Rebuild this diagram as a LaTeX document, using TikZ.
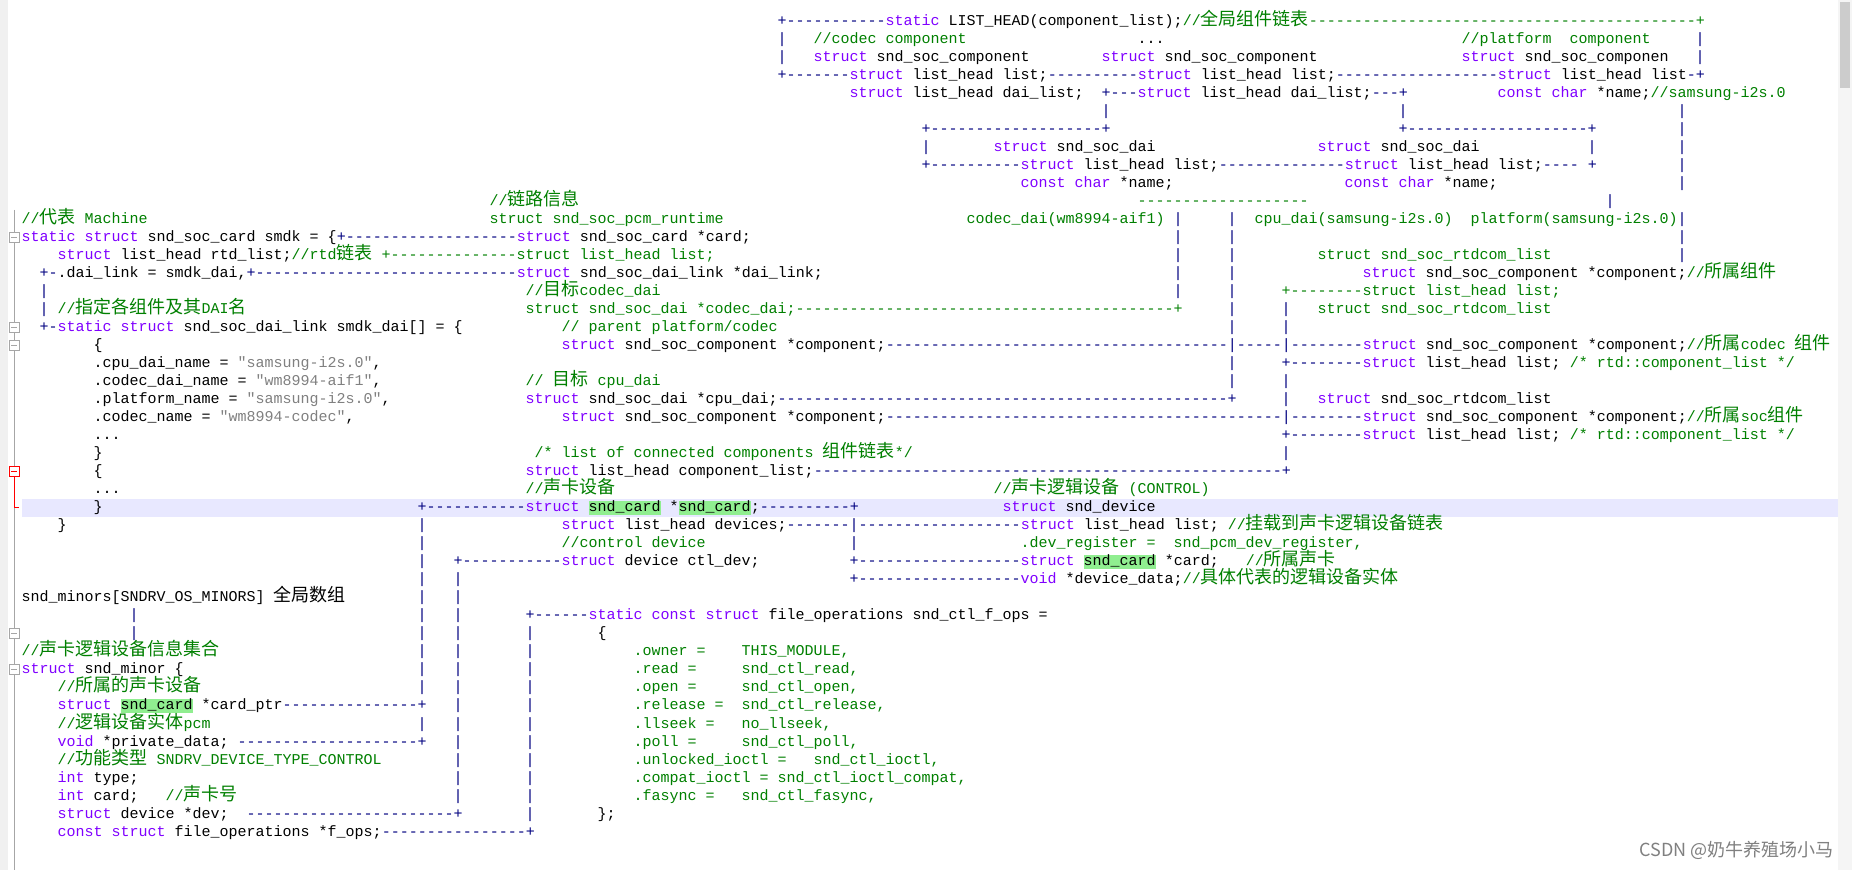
\documentclass[tikz,border=0pt]{standalone}
\usepackage{fontspec}
\newfontfamily\code{Liberation Mono}[WordSpace={1,0,0}]
\newfontfamily\cjkf{Noto Sans CJK SC}[Scale=1.2]
\newfontfamily\wmf{Noto Sans CJK SC}
\definecolor{kwc}{HTML}{8000FF}
\definecolor{cmc}{HTML}{008000}
\definecolor{blc}{HTML}{000080}
\definecolor{stc}{HTML}{808080}
\definecolor{hlg}{HTML}{90EE90}
\definecolor{band}{HTML}{E8E8FF}
\ExplSyntaxOn
\cs_new:Npn \rep #1#2 { \prg_replicate:nn {#1} {#2} }
\ExplSyntaxOff
\newcommand\KW[1]{\textcolor{kwc}{#1}}
\newcommand\CM[1]{\textcolor{cmc}{#1}}
\newcommand\BL[1]{\textcolor{blc}{#1}}
\newcommand\STR[1]{\textcolor{stc}{#1}}
\newcommand\ZH[1]{{\cjkf #1}}
\newcommand\HL[1]{{\setlength{\fboxsep}{0pt}\colorbox{hlg}{\vphantom{Ag}#1}}}
\newcommand\Tx[3]{\node[txt] at ({10.85pt+#1*4.5pt},{-10.65pt-#2*9.005pt}) {#3};}
\newcommand\V[2]{\Tx{#1}{#2}{\BL{|}}}
\newcommand\Vs[3]{\foreach \r in {#2,...,#3}{\V{#1}{\r}}}
\begin{document}
\frenchspacing
\begin{tikzpicture}[txt/.style={anchor=mid west,inner sep=0pt,outer sep=0pt,font=\fontsize{7.5pt}{9pt}\code}]
\useasboundingbox (0,0) rectangle (926pt,-435pt);
\fill[white] (0,0) rectangle (926pt,-435pt);
% gutter and scrollbar
\fill[gray!12] (0,0) rectangle (4pt,-435pt);
\draw[gray!70,line width=0.5pt] (7pt,-105pt) -- (7pt,-435pt);
\foreach \r in {12,17,18,34,36}{\draw[gray!70,fill=white,line width=0.5pt] (4.5pt,{-10.65pt-\r*9.005pt-2.5pt}) rectangle (9.5pt,{-10.65pt-\r*9.005pt+2.5pt});
 \draw[gray!70,line width=0.5pt] (5.5pt,{-10.65pt-\r*9.005pt}) -- (8.5pt,{-10.65pt-\r*9.005pt});}
\draw[red,line width=0.5pt] (7pt,{-10.65pt-25*9.005pt}) -- (7pt,{-10.65pt-27*9.005pt}) -- (9.5pt,{-10.65pt-27*9.005pt});
\draw[red,fill=white,line width=0.5pt] (4.5pt,{-10.65pt-25*9.005pt-2.5pt}) rectangle (9.5pt,{-10.65pt-25*9.005pt+2.5pt});
\draw[red,line width=0.5pt] (5.5pt,{-10.65pt-25*9.005pt}) -- (8.5pt,{-10.65pt-25*9.005pt});
\fill[gray!8] (919pt,0) rectangle (926pt,-435pt);
\fill[gray!40] (920pt,-1pt) rectangle (925pt,-44pt);
\fill[band] (11pt,{-10.65pt-27*9.005pt+4.5pt}) rectangle (919pt,{-10.65pt-27*9.005pt-4.5pt});
% row 0-10
\Tx{84}{0}{\BL{+\rep{11}{-}}\KW{static} LIST\_HEAD(component\_list);\CM{//\ZH{全局组件链表}\rep{43}{-}+}}
\V{84}{1}\Tx{88}{1}{\CM{//codec component}}\Tx{124}{1}{...}\Tx{160}{1}{\CM{//platform~~component}}\V{186}{1}
\V{84}{2}\Tx{88}{2}{\KW{struct} snd\_soc\_component}\Tx{120}{2}{\KW{struct} snd\_soc\_component}\Tx{160}{2}{\KW{struct} snd\_soc\_componen}\V{186}{2}
\Tx{84}{3}{\BL{+\rep{7}{-}}\KW{struct} list\_head list;\BL{\rep{10}{-}}\KW{struct} list\_head list;\BL{\rep{18}{-}}\KW{struct} list\_head list\BL{-+}}
\Tx{92}{4}{\KW{struct} list\_head dai\_list;}\Tx{120}{4}{\BL{+---}\KW{struct} list\_head dai\_list;\BL{---+}}\Tx{164}{4}{\KW{const} \KW{char} *name;\CM{//samsung-i2s.0}}
\V{120}{5}\V{153}{5}\Vs{184}{5}{9}
\Tx{100}{6}{\BL{+\rep{19}{-}+}}\Tx{153}{6}{\BL{+\rep{20}{-}+}}
\V{100}{7}\Tx{108}{7}{\KW{struct} snd\_soc\_dai}\Tx{144}{7}{\KW{struct} snd\_soc\_dai}\V{174}{7}
\Tx{100}{8}{\BL{+\rep{10}{-}}\KW{struct} list\_head list;\BL{\rep{14}{-}}\KW{struct} list\_head list;\BL{----~+}}
\Tx{111}{9}{\KW{const} \KW{char} *name;}\Tx{147}{9}{\KW{const} \KW{char} *name;}
\Tx{52}{10}{\CM{//\ZH{链路信息}}}\Tx{124}{10}{\CM{\rep{19}{-}}}\V{176}{10}
% row 11-27
\Tx{0}{11}{\CM{//\ZH{代表} Machine}}\Tx{52}{11}{\CM{struct snd\_soc\_pcm\_runtime}}\Tx{105}{11}{\CM{codec\_dai(wm8994-aif1)}}\Tx{137}{11}{\CM{cpu\_dai(samsung-i2s.0)~~platform(samsung-i2s.0)}}\V{184}{11}
\Vs{128}{11}{15}\Tx{128}{16}{\CM{+}}\Vs{134}{11}{17}\V{134}{19}\V{134}{20}\Tx{134}{21}{\BL{+}}
\Tx{140}{15}{\CM{+\rep{8}{-}struct list\_head list;}}\V{140}{16}\V{140}{17}\V{140}{20}\V{140}{21}\V{140}{24}
\V{184}{12}\V{184}{13}
\Tx{0}{12}{\KW{static} \KW{struct} snd\_soc\_card smdk = \{\BL{+\rep{19}{-}}\KW{struct} snd\_soc\_card *card;}
\Tx{4}{13}{\KW{struct} list\_head rtd\_list;\CM{//rtd\ZH{链表} +\rep{14}{-}struct list\_head list;}}\Tx{144}{13}{\CM{struct snd\_soc\_rtdcom\_list}}
\Tx{2}{14}{\BL{+-}.dai\_link = smdk\_dai,\BL{+\rep{29}{-}}\KW{struct} snd\_soc\_dai\_link *dai\_link;}\Tx{149}{14}{\KW{struct} snd\_soc\_component *component;\CM{//\ZH{所属组件}}}
\V{2}{15}\Tx{56}{15}{\CM{//\ZH{目标}codec\_dai}}
\Tx{2}{16}{\BL{|} \CM{//\ZH{指定各组件及其}DAI\ZH{名}}}\Tx{56}{16}{\CM{struct snd\_soc\_dai *codec\_dai;\rep{42}{-}}}\Tx{144}{16}{\CM{struct snd\_soc\_rtdcom\_list}}
\Tx{2}{17}{\BL{+-}\KW{static} \KW{struct} snd\_soc\_dai\_link smdk\_dai[] = \{}\Tx{60}{17}{\CM{// parent platform/codec}}
\Tx{8}{18}{\{}\Tx{60}{18}{\KW{struct} snd\_soc\_component *component;\BL{\rep{38}{-}|-----|\rep{8}{-}}\KW{struct} snd\_soc\_component *component;\CM{//\ZH{所属}codec \ZH{组件}}}
\Tx{8}{19}{.cpu\_dai\_name = \STR{"samsung-i2s.0"},}\Tx{140}{19}{\BL{+\rep{8}{-}}\KW{struct} list\_head list; \CM{/* rtd::component\_list */}}
\Tx{8}{20}{.codec\_dai\_name = \STR{"wm8994-aif1"},}\Tx{56}{20}{\CM{// \ZH{目标} cpu\_dai}}
\Tx{8}{21}{.platform\_name = \STR{"samsung-i2s.0"},}\Tx{56}{21}{\KW{struct} snd\_soc\_dai *cpu\_dai;\BL{\rep{50}{-}}}\Tx{144}{21}{\KW{struct} snd\_soc\_rtdcom\_list}
\Tx{8}{22}{.codec\_name = \STR{"wm8994-codec"},}\Tx{60}{22}{\KW{struct} snd\_soc\_component *component;\BL{\rep{44}{-}|\rep{8}{-}}\KW{struct} snd\_soc\_component *component;\CM{//\ZH{所属}soc\ZH{组件}}}
\Tx{8}{23}{...}\Tx{140}{23}{\BL{+\rep{8}{-}}\KW{struct} list\_head list; \CM{/* rtd::component\_list */}}
\Tx{8}{24}{\}}\Tx{57}{24}{\CM{/* list of connected components \ZH{组件链表}*/}}
\Tx{8}{25}{\{}\Tx{56}{25}{\KW{struct} list\_head component\_list;\BL{\rep{52}{-}+}}
\Tx{8}{26}{...}\Tx{56}{26}{\CM{//\ZH{声卡设备}}}\Tx{108}{26}{\CM{//\ZH{声卡逻辑设备} (CONTROL)}}
\Tx{8}{27}{\}}\Tx{44}{27}{\BL{+\rep{11}{-}}\KW{struct} \HL{snd\_card} *\HL{snd\_card};\BL{\rep{10}{-}+}}\Tx{109}{27}{\KW{struct} snd\_device}
% row 28-45
\Tx{4}{28}{\}}\Vs{44}{28}{37}\V{44}{39}
\Tx{60}{28}{\KW{struct} list\_head devices;\BL{\rep{7}{-}|\rep{18}{-}}\KW{struct} list\_head list; \CM{//\ZH{挂载到声卡逻辑设备链表}}}
\Tx{60}{29}{\CM{//control device}}\V{92}{29}\Tx{111}{29}{\CM{.dev\_register =~~snd\_pcm\_dev\_register,}}
\Tx{48}{30}{\BL{+\rep{11}{-}}\KW{struct} device ctl\_dev;}\Tx{92}{30}{\BL{+\rep{18}{-}}\KW{struct} \HL{snd\_card} *card;~~~\CM{//\ZH{所属声卡}}}
\Vs{48}{31}{43}
\Tx{92}{31}{\BL{+\rep{18}{-}}\KW{void} *device\_data;\CM{//\ZH{具体代表的逻辑设备实体}}}
\Tx{0}{32}{snd\_minors[SNDRV\_OS\_MINORS] \ZH{全局数组}}
\V{12}{33}\V{12}{34}\Tx{56}{33}{\BL{+\rep{6}{-}}\KW{static} \KW{const} \KW{struct} file\_operations snd\_ctl\_f\_ops =}
\Vs{56}{34}{44}\Tx{64}{34}{\{}
\Tx{0}{35}{\CM{//\ZH{声卡逻辑设备信息集合}}}\Tx{68}{35}{\CM{.owner =}}\Tx{80}{35}{\CM{THIS\_MODULE,}}
\Tx{0}{36}{\KW{struct} snd\_minor \{}\Tx{68}{36}{\CM{.read =}}\Tx{80}{36}{\CM{snd\_ctl\_read,}}
\Tx{4}{37}{\CM{//\ZH{所属的声卡设备}}}\Tx{68}{37}{\CM{.open =}}\Tx{80}{37}{\CM{snd\_ctl\_open,}}
\Tx{4}{38}{\KW{struct} \HL{snd\_card} *card\_ptr\BL{\rep{15}{-}+}}\Tx{68}{38}{\CM{.release =}}\Tx{80}{38}{\CM{snd\_ctl\_release,}}
\Tx{4}{39}{\CM{//\ZH{逻辑设备实体}pcm}}\Tx{68}{39}{\CM{.llseek =}}\Tx{80}{39}{\CM{no\_llseek,}}
\Tx{4}{40}{\KW{void} *private\_data; \BL{\rep{20}{-}+}}\Tx{68}{40}{\CM{.poll =}}\Tx{80}{40}{\CM{snd\_ctl\_poll,}}
\Tx{4}{41}{\CM{//\ZH{功能类型} SNDRV\_DEVICE\_TYPE\_CONTROL}}\Tx{68}{41}{\CM{.unlocked\_ioctl =}}\Tx{88}{41}{\CM{snd\_ctl\_ioctl,}}
\Tx{4}{42}{\KW{int} type;}\Tx{68}{42}{\CM{.compat\_ioctl = snd\_ctl\_ioctl\_compat,}}
\Tx{4}{43}{\KW{int} card;~~~\CM{//\ZH{声卡号}}}\Tx{68}{43}{\CM{.fasync =}}\Tx{80}{43}{\CM{snd\_ctl\_fasync,}}
\Tx{4}{44}{\KW{struct} device *dev;~~\BL{\rep{23}{-}+}}\Tx{64}{44}{\};}
\Tx{4}{45}{\KW{const} \KW{struct} file\_operations *f\_ops;\BL{\rep{16}{-}+}}
\node[anchor=east,inner sep=0pt,font=\fontsize{9pt}{10pt}\wmf,text=gray] at (917pt,-425pt) {CSDN @奶牛养殖场小马};
\end{tikzpicture}
\end{document}
